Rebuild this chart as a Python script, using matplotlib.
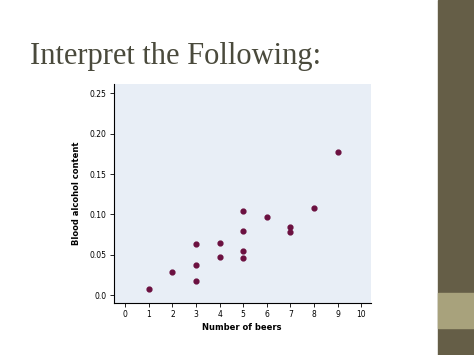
import numpy as np
import matplotlib.pyplot as plt
import matplotlib.patches as patches

beers = [1, 2, 3, 3, 3, 4, 4, 5, 5, 5, 5, 6, 7, 7, 8, 9]
bac = [0.008, 0.029, 0.063, 0.038, 0.018, 0.065, 0.047,
       0.104, 0.080, 0.055, 0.046, 0.097, 0.084, 0.078, 0.108, 0.177]
xticks = list(range(0, 11))
yticks = [0.0, 0.05, 0.10, 0.15, 0.20, 0.25]
ytick_labels = ['0.0', '0.05', '0.10', '0.15', '0.20', '0.25']

W, H = 474, 355
fig = plt.figure(figsize=(W / 100, H / 100), dpi=100)
fig.patch.set_facecolor('white')

# right side bar of the slide
fig.add_artist(patches.Rectangle((438 / W, 0), (W - 438) / W, 1,
                                 transform=fig.transFigure, color='#655e47', zorder=0))
fig.add_artist(patches.Rectangle((438 / W, 1 - 328 / H), (W - 438) / W, 35 / H,
                                 transform=fig.transFigure, color='#a8a27c', zorder=0))

fig.text(30 / W, 1 - 64 / H, 'Interpret the Following:', family='Liberation Serif',
         fontsize=22, color='#4a4a3c')

ax = fig.add_axes([113.5 / W, 1 - 302.7 / H, (370.7 - 113.5) / W, (302.7 - 84) / H])
ax.set_facecolor('#e8eef6')
ax.scatter(beers, bac, s=12, color='#6b1040', zorder=3)

ax.set_xlim(-0.5, 10.4)
ax.set_ylim(-0.0092, 0.2615)
ax.set_xticks(xticks)
ax.set_yticks(yticks)
ax.set_yticklabels(ytick_labels)
for s in ['top', 'right']:
    ax.spines[s].set_visible(False)
for s in ['left', 'bottom']:
    ax.spines[s].set_linewidth(0.8)
ax.tick_params(length=3, width=0.6, labelsize=5.5, pad=2)
ax.set_xlabel('Number of beers', fontsize=6, fontweight='bold', labelpad=3)
ax.set_ylabel('Blood alcohol content', fontsize=6, fontweight='bold', labelpad=6)

plt.savefig('out.png', dpi=100)
